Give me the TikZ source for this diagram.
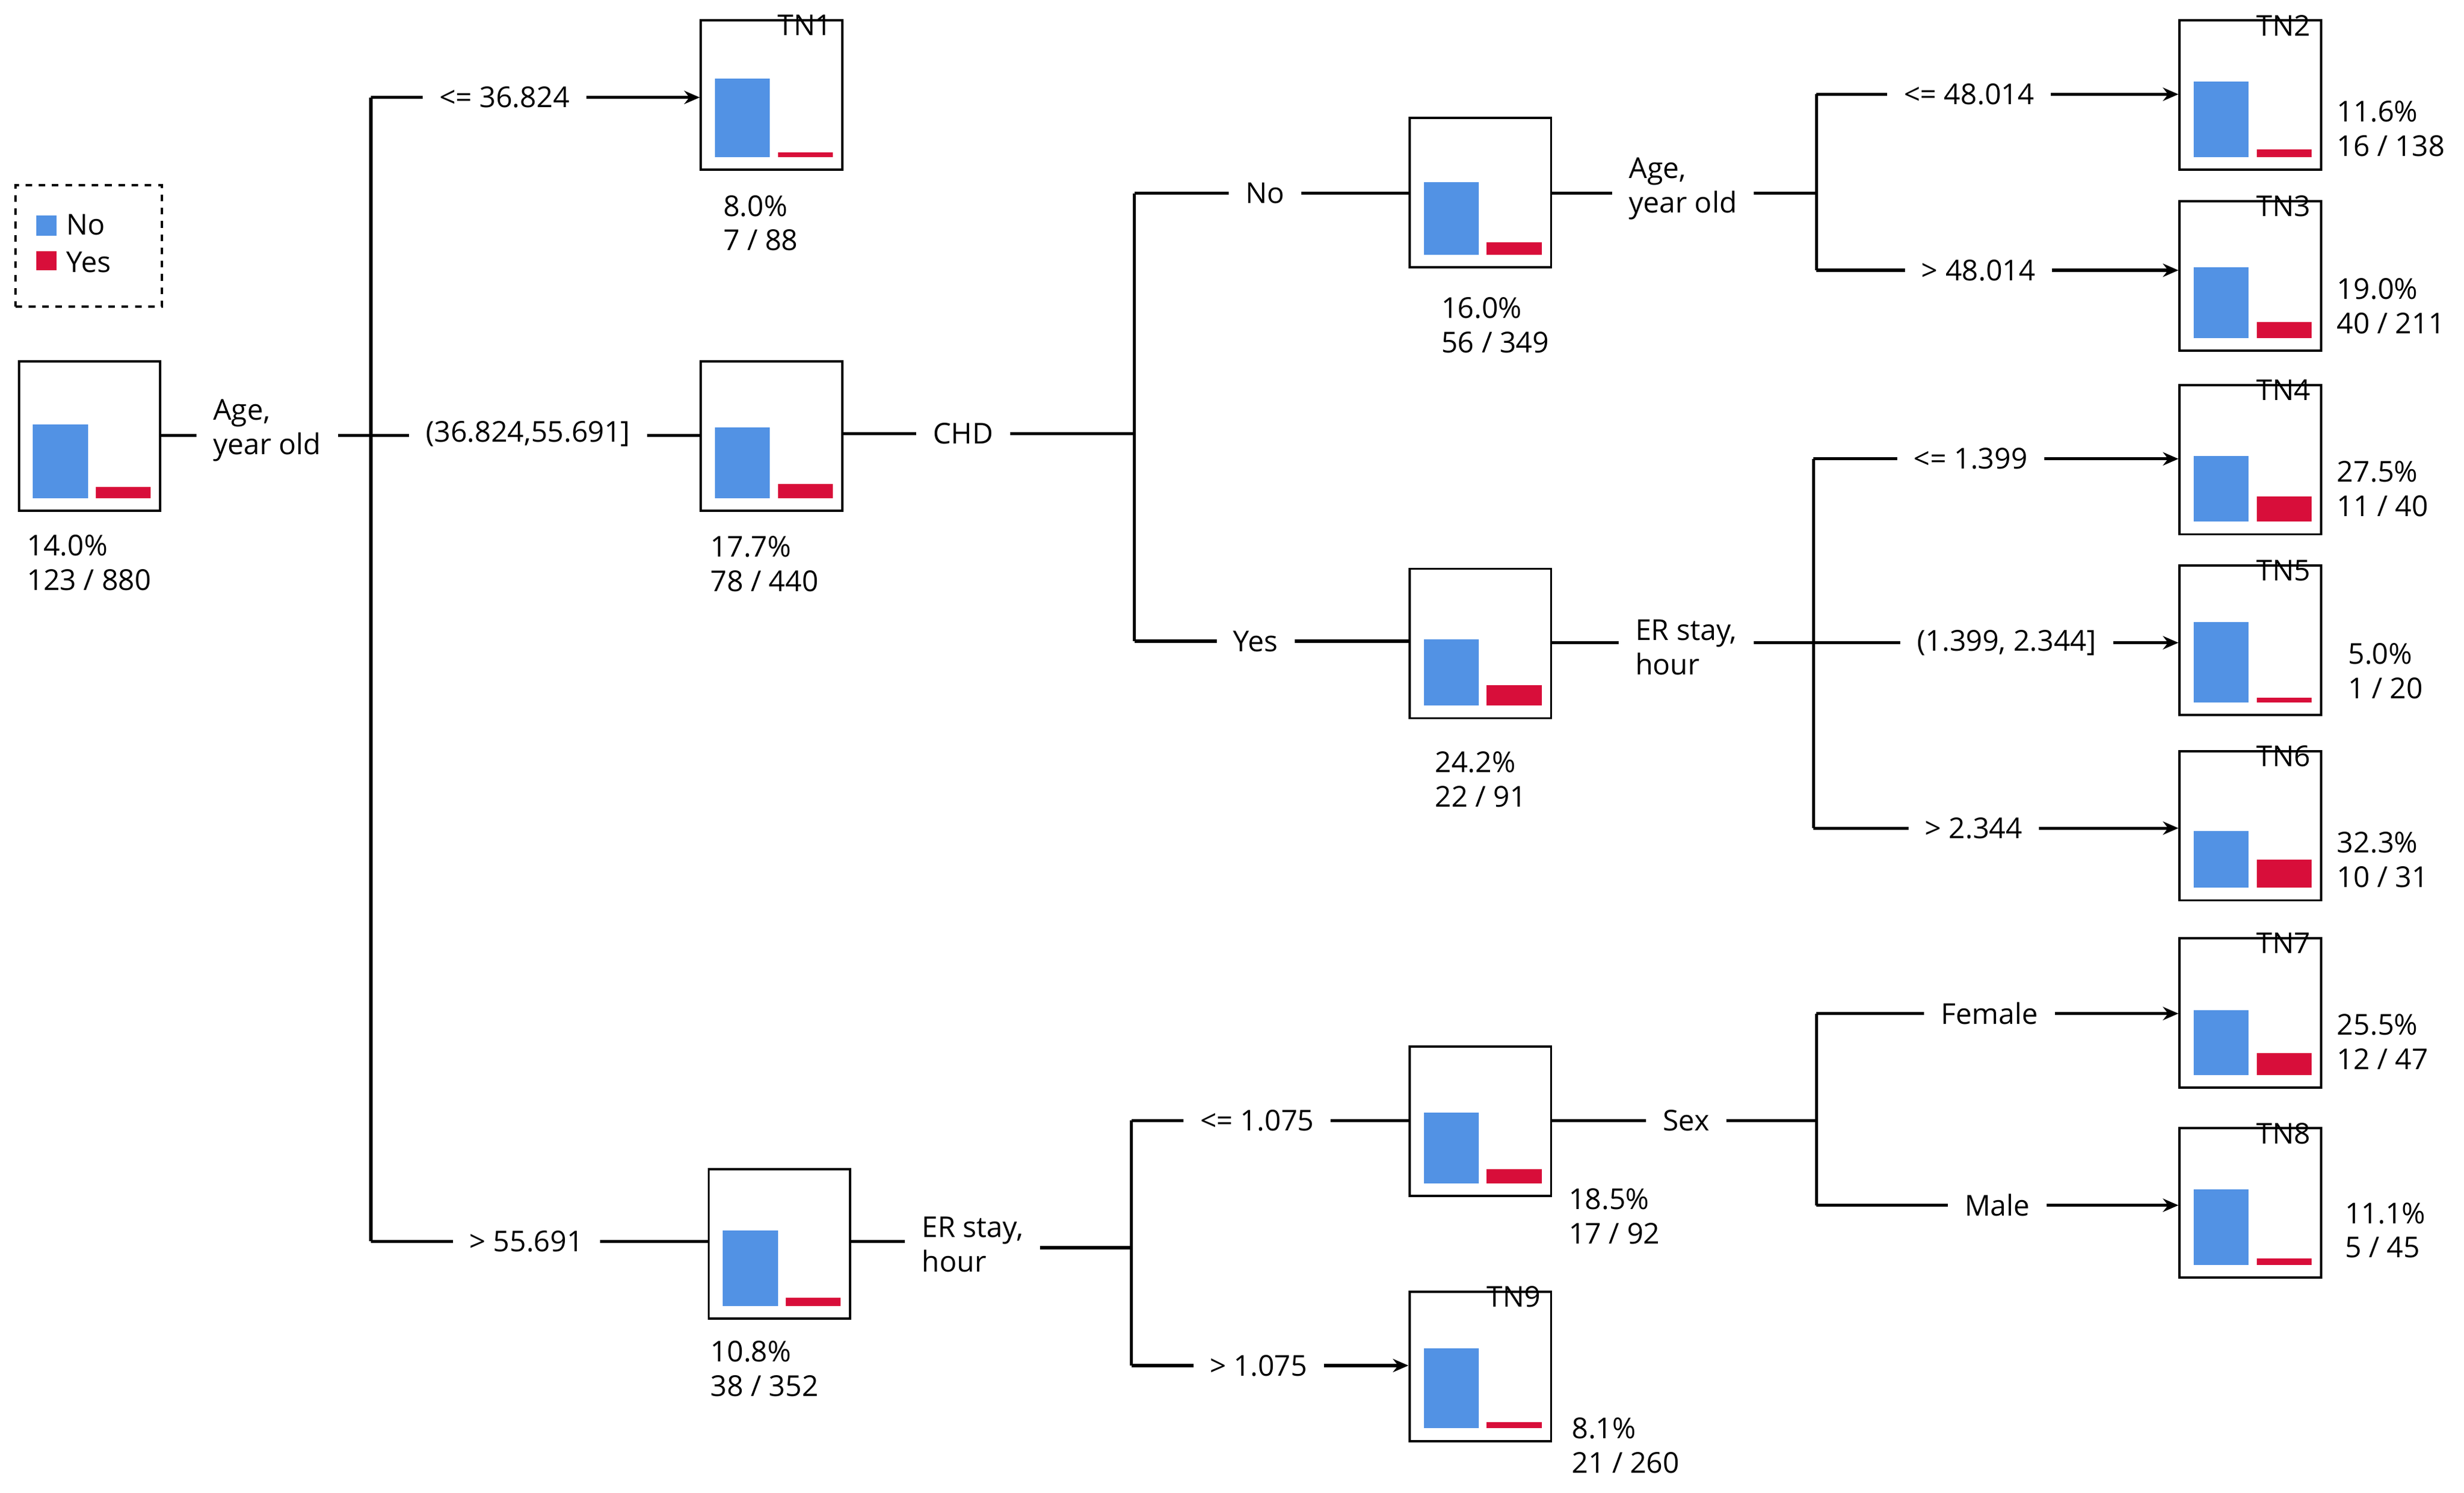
\documentclass[tikz,border=0pt]{standalone}
\usepackage{fontspec}
\setmainfont{Open Sans}
\usetikzlibrary{arrows.meta}
\definecolor{barblue}{RGB}{82,146,228}
\definecolor{barred}{RGB}{216,14,58}
\newcommand\leafbox[6]{% name, x, y, blue top, red top, tag
  \node[box] (#1) at (#2+45,#3+47.5) {};
  \fill[barblue] (#2+9,#4) rectangle (#2+44,#3+87);
  \fill[barred] (#2+49,#5) rectangle (#2+84,#3+87);
  \node[tag, anchor=north east] (#1t) at ([shift={(-7,-3)}]#1.north east) {#6};
}
\begin{document}
\begin{tikzpicture}[x=0.025cm, y=-0.025cm,
  every node/.style={font=\fontsize{13}{15.6}\selectfont},
  box/.style={draw, line width=1pt, minimum width=2.25cm, minimum height=2.375cm, inner sep=0pt},
  tag/.style={inner sep=0pt},
  lbl/.style={inner xsep=2.6mm, inner ysep=0pt, align=left},
  stat/.style={anchor=north west, inner sep=0pt, align=left},
  ln/.style={line width=1.4pt},
  ar/.style={line width=1.4pt, -{Stealth[length=7pt, width=6pt]}}
]
\useasboundingbox (0,0) rectangle (1568,950);

% legend
\node[draw, dashed, line width=1pt, minimum width=2.33cm, minimum height=1.93cm] (leg) at (56.5,156.5) {};
\fill[barblue] (23,137) rectangle (36,150);
\fill[barred] (23,160) rectangle (36,172);
\node[anchor=west, inner sep=0pt] (legno) at (42,143) {No};
\node[anchor=west, inner sep=0pt] (legyes) at (42,167) {Yes};

% boxes
\leafbox{root}{12}{230}{270}{310}{}
\leafbox{tn1}{446}{13}{50}{97}{TN1}
\leafbox{mid}{446}{230}{272}{308}{}
\leafbox{low}{451}{744}{783}{826}{}
\leafbox{no}{897}{75}{116}{154}{}
\leafbox{yes}{897}{362}{407}{436}{}
\leafbox{tn2}{1387}{13}{52}{95}{TN2}
\leafbox{tn3}{1387}{128}{170}{205}{TN3}
\leafbox{tn4}{1387}{245}{290}{316}{TN4}
\leafbox{tn5}{1387}{360}{396}{444}{TN5}
\leafbox{tn6}{1387}{478}{529}{547}{TN6}
\leafbox{tn7}{1387}{597}{643}{670}{TN7}
\leafbox{tn8}{1387}{718}{757}{801}{TN8}
\leafbox{er}{897}{666}{708}{744}{}
\leafbox{tn9}{897}{822}{858}{905}{TN9}

% stats
\node[stat] (s0) at (17,340) {14.0\%\\123 / 880};
\node[stat] (s1) at (460,124) {8.0\%\\7 / 88};
\node[stat] (s2) at (452,341) {17.7\%\\78 / 440};
\node[stat] (s3) at (452,853) {10.8\%\\38 / 352};
\node[stat] (s4) at (917,189) {16.0\%\\56 / 349};
\node[stat] (s5) at (913,478) {24.2\%\\22 / 91};
\node[stat] (s6) at (998,756) {18.5\%\\17 / 92};
\node[stat] (s7) at (1000,902) {8.1\%\\21 / 260};
\node[stat] (s8) at (1487,64) {11.6\%\\16 / 138};
\node[stat] (s9) at (1487,177) {19.0\%\\40 / 211};
\node[stat] (s10) at (1487,293) {27.5\%\\11 / 40};
\node[stat] (s11) at (1494,409) {5.0\%\\1 / 20};
\node[stat] (s12) at (1487,529) {32.3\%\\10 / 31};
\node[stat] (s13) at (1487,645) {25.5\%\\12 / 47};
\node[stat] (s14) at (1492,765) {11.1\%\\5 / 45};

% split labels
\node[lbl, anchor=west] (v0) at (125,274) {Age,\\year old};
\node[lbl] (b1) at (321,62) {<= 36.824};
\node[lbl] (b2) at (336,276) {(36.824,55.691]};
\node[lbl] (b3) at (335,790) {> 55.691};
\node[lbl] (v1) at (613,276) {CHD};
\node[lbl] (b4) at (805,123) {No};
\node[lbl] (b5) at (799,408) {Yes};
\node[lbl, anchor=west] (v2) at (1026,120) {Age,\\year old};
\node[lbl] (b6) at (1253,60) {<= 48.014};
\node[lbl] (b7) at (1259,172) {> 48.014};
\node[lbl, anchor=west] (v3) at (1030,412) {ER stay,\\hour};
\node[lbl] (b8) at (1254,292) {<= 1.399};
\node[lbl] (b9) at (1277,409) {(1.399, 2.344]};
\node[lbl] (b10) at (1256,527) {> 2.344};
\node[lbl, anchor=west] (v4) at (576,792) {ER stay,\\hour};
\node[lbl] (b11) at (800,713) {<= 1.075};
\node[lbl] (b12) at (801,869) {> 1.075};
\node[lbl] (v5) at (1073,713) {Sex};
\node[lbl] (b13) at (1266,645) {Female};
\node[lbl] (b14) at (1271,767) {Male};

% junctions
\coordinate (j0) at (236,277);
\coordinate (j1) at (722,276);
\coordinate (j2) at (1156,123);
\coordinate (j3) at (1154,409);
\coordinate (j4) at (720,794);
\coordinate (j5) at (1156,713);

% root split
\draw[ln] (root.east |- 0,277) -- (v0.west |- 0,277);
\draw[ln] (v0.east |- 0,277) -- (j0);
\draw[ln] (j0 |- b1) -- (j0 |- b3);
\draw[ln] (j0 |- b1) -- (b1.west);
\draw[ar] (b1.east) -- (tn1.west |- b1);
\draw[ln] (j0) -- (b2.west |- j0);
\draw[ln] (b2.east |- j0) -- (mid.west |- j0);
\draw[ln] (j0 |- b3) -- (b3.west);
\draw[ln] (b3.east) -- (low.west |- b3);

% CHD split
\draw[ln] (mid.east |- j1) -- (v1.west |- j1);
\draw[ln] (v1.east |- j1) -- (j1);
\draw[ln] (j1 |- b4) -- (j1 |- b5);
\draw[ln] (j1 |- b4) -- (b4.west);
\draw[ln] (b4.east) -- (no.west |- b4);
\draw[ln] (j1 |- b5) -- (b5.west);
\draw[ln] (b5.east) -- (yes.west |- b5);

% age split (No)
\draw[ln] (no.east |- j2) -- (v2.west |- j2);
\draw[ln] (v2.east |- j2) -- (j2);
\draw[ln] (j2 |- b6) -- (j2 |- b7);
\draw[ln] (j2 |- b6) -- (b6.west);
\draw[ar] (b6.east) -- (tn2.west |- b6);
\draw[ln] (j2 |- b7) -- (b7.west);
\draw[ar] (b7.east) -- (tn3.west |- b7);

% ER stay split (Yes)
\draw[ln] (yes.east |- j3) -- (v3.west |- j3);
\draw[ln] (v3.east |- j3) -- (j3);
\draw[ln] (j3 |- b8) -- (j3 |- b10);
\draw[ln] (j3 |- b8) -- (b8.west);
\draw[ar] (b8.east) -- (tn4.west |- b8);
\draw[ln] (j3) -- (b9.west |- j3);
\draw[ar] (b9.east |- j3) -- (tn5.west |- j3);
\draw[ln] (j3 |- b10) -- (b10.west);
\draw[ar] (b10.east) -- (tn6.west |- b10);

% ER stay split (>55.691)
\draw[ln] (low.east |- b3) -- (v4.west |- b3);
\draw[ln] (v4.east |- j4) -- (j4);
\draw[ln] (j4 |- b11) -- (j4 |- b12);
\draw[ln] (j4 |- b11) -- (b11.west);
\draw[ln] (b11.east) -- (er.west |- b11);
\draw[ln] (j4 |- b12) -- (b12.west);
\draw[ar] (b12.east) -- (tn9.west |- b12);

% sex split
\draw[ln] (er.east |- j5) -- (v5.west);
\draw[ln] (v5.east) -- (j5);
\draw[ln] (j5 |- b13) -- (j5 |- b14);
\draw[ln] (j5 |- b13) -- (b13.west);
\draw[ar] (b13.east) -- (tn7.west |- b13);
\draw[ln] (j5 |- b14) -- (b14.west);
\draw[ar] (b14.east) -- (tn8.west |- b14);
\end{tikzpicture}
\end{document}
